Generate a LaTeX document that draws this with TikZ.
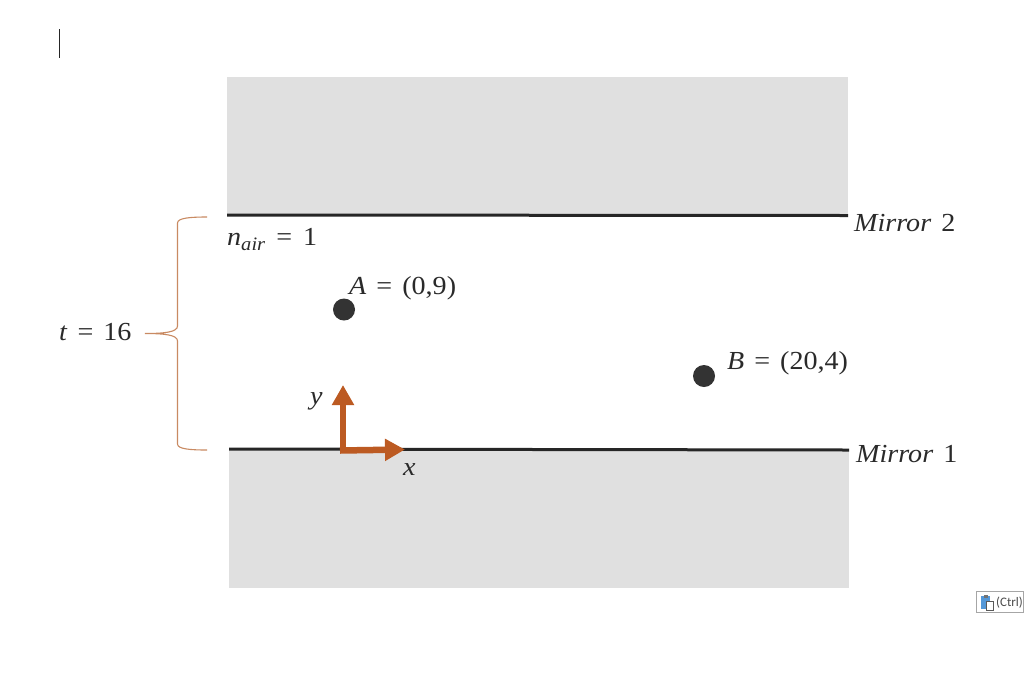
\documentclass[tikz,border=0pt]{standalone}
\usepackage{fontspec}
\setmainfont[FakeStretch=1.08]{Liberation Serif}
\newfontfamily\uifont{Carlito}
\usetikzlibrary{arrows.meta}
\definecolor{slab}{HTML}{E0E0E0}
\definecolor{mirrorline}{HTML}{262626}
\definecolor{rust}{HTML}{BC5A22}
\definecolor{bracecol}{HTML}{C98A62}
\definecolor{ink}{HTML}{2A2A2A}
\definecolor{dotcol}{HTML}{333333}
\newcommand{\eqsign}{\hspace{3pt} = \hspace{3pt}}
\tikzset{
  x=1pt,y=-1pt,
  slabbox/.style={fill=slab,draw=none},
  mirror/.style={draw=mirrorline,line width=3pt},
  axisarrow/.style={draw=rust,line width=6.5pt,-{Triangle[length=20pt,width=21pt]}},
  lab/.style={inner sep=0pt,text=ink,font=\fontsize{26}{28}\selectfont,anchor=base west},
  pointdot/.style={circle,fill=dotcol,draw=none,minimum width=22pt,minimum height=21pt,inner sep=0pt},
  bracket/.style={draw=bracecol,line width=1.1pt}
}
\begin{document}
\begin{tikzpicture}
\useasboundingbox (0,0) rectangle (1024,694);
\fill[white] (0,0) rectangle (1024,694);
\draw[line width=1.2pt,draw=black!85] (59.5,29) -- (59.5,58);
\fill[slabbox] (227,77) rectangle (848,215);
\fill[slabbox] (229,450) rectangle (849,588);
\coordinate (m2a) at (227,215);\coordinate (m2b) at (848,215.5);
\coordinate (m1a) at (229,449);\coordinate (m1b) at (849,450);
\draw[mirror] (m2a) -- (m2b);
\draw[mirror] (m1a) -- (m1b);
\node[lab] (m2) at (854,231) {\textit{Mirror}\hspace{3pt} 2};
\node[lab] (m1) at (856,462) {\textit{Mirror}\hspace{3pt} 1};
\node[lab] (n) at (227,245) {\textit{n}\raisebox{-5pt}{\fontsize{19}{20}\selectfont\textit{air}}\hspace{1pt}\eqsign\hspace{1pt}1};
\node[lab] (A) at (349,294) {\textit{A}\eqsign (0,9)};
\node[lab] (B) at (727,369) {\textit{B}\eqsign (20,4)};
\node[lab] (t) at (59,340) {\textit{t}\eqsign 16};
\node[lab] (y) at (310,404) {\textit{y}};
\node[lab] (x) at (403,475) {\textit{x}};
\node[pointdot] (pa) at (344,309.5) {};
\node[pointdot] (pb) at (704,376) {};
\coordinate (oy) at (343,453);
\coordinate (ox) at (340,450.5);
\coordinate (ax) at (405,449.5);
\coordinate (ay) at (343,385);
\draw[axisarrow] (oy) -- (ay);
\draw[axisarrow] (ox) -- (ax);
\coordinate (bt) at (207,217);\coordinate (bb) at (207,450);\coordinate (bm) at (145,333.5);
\draw[bracket] (bt) .. controls (190,217) and (177.5,218) .. (177.5,223)
  -- (177.5,326) .. controls (177.5,332) and (165,333.5) .. (bm)
  .. controls (165,333.5) and (177.5,335) .. (177.5,341)
  -- (177.5,444) .. controls (177.5,449) and (190,450) .. (bb);
% clipboard button
\node[draw=black!35,fill=white,line width=.8pt,minimum width=47pt,minimum height=21pt,inner sep=0pt] (btn) at (1000,602) {};
\fill[cyan!60!blue!70] (981,596) rectangle (990,609);
\fill[black!55] (983.5,594.5) rectangle (987.5,598);
\draw[black!65,fill=white,line width=.7pt] (986,601) rectangle (993,610);
\node[inner sep=0pt,anchor=base west,text=black!70,font=\uifont\fontsize{13}{14}\selectfont] (ctrl) at (996,606.5) {(Ctrl)};
\end{tikzpicture}
\end{document}
